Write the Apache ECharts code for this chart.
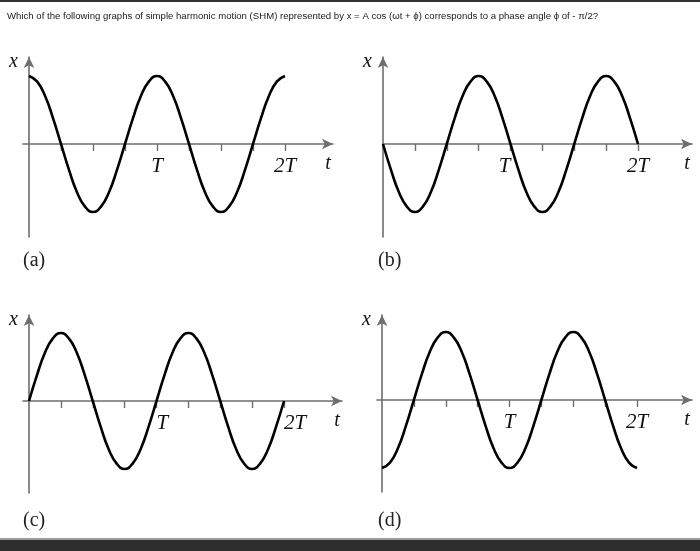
<!DOCTYPE html>
<html>
<head>
<meta charset="utf-8">
<script src="https://cdn.jsdelivr.net/npm/echarts@6/dist/echarts.min.js"></script>
<style>
html, body { margin: 0; padding: 0; background: #fff; }
#chart { width: 700px; height: 551px; }
</style>
</head>
<body>
<div id="chart"></div>
<script>
var question = "Which of the following graphs of simple harmonic motion (SHM) represented by x = A cos (\u03c9t + \u03d5) corresponds to a phase angle \u03d5 of - \u03c0/2?";

// time in units of the period T, sampled every T/16
var timeSteps = [0, 0.0625, 0.125, 0.1875, 0.25, 0.3125, 0.375, 0.4375, 0.5, 0.5625, 0.625, 0.6875, 0.75, 0.8125, 0.875, 0.9375,
	1, 1.0625, 1.125, 1.1875, 1.25, 1.3125, 1.375, 1.4375, 1.5, 1.5625, 1.625, 1.6875, 1.75, 1.8125, 1.875, 1.9375, 2];

// displacement, in units of the amplitude A
var curveA = [1, 0.92, 0.71, 0.38, 0, -0.38, -0.71, -0.92, -1, -0.92, -0.71, -0.38, 0, 0.38, 0.71, 0.92,
	1, 0.92, 0.71, 0.38, 0, -0.38, -0.71, -0.92, -1, -0.92, -0.71, -0.38, 0, 0.38, 0.71, 0.92, 1];
var curveB = [0, -0.38, -0.71, -0.92, -1, -0.92, -0.71, -0.38, 0, 0.38, 0.71, 0.92, 1, 0.92, 0.71, 0.38,
	0, -0.38, -0.71, -0.92, -1, -0.92, -0.71, -0.38, 0, 0.38, 0.71, 0.92, 1, 0.92, 0.71, 0.38, 0];
var curveC = [0, 0.38, 0.71, 0.92, 1, 0.92, 0.71, 0.38, 0, -0.38, -0.71, -0.92, -1, -0.92, -0.71, -0.38,
	0, 0.38, 0.71, 0.92, 1, 0.92, 0.71, 0.38, 0, -0.38, -0.71, -0.92, -1, -0.92, -0.71, -0.38, 0];
var curveD = [-1, -0.92, -0.71, -0.38, 0, 0.38, 0.71, 0.92, 1, 0.92, 0.71, 0.38, 0, -0.38, -0.71, -0.92,
	-1, -0.92, -0.71, -0.38, 0, 0.38, 0.71, 0.92, 1, 0.92, 0.71, 0.38, 0, -0.38, -0.71, -0.92, -1];

var tickValues = [0.25, 0.5, 0.75, 1, 1.25, 1.5, 1.75, 2];
var tickLabelValues = [1, 2];
var tickLabels = ["T", "2T"];
var panelLabels = ["(a)", "(b)", "(c)", "(d)"];
var curves = [curveA, curveB, curveC, curveD];

// pixel layout of each panel: origin, px per T, px per A, axis ends
var layout = [
	{ ox: 29, oy: 144, unit: 128, amp: 68, xs: 23, xe: 333, ye: 57, yb: 237, lx: 23, ly: 251, align: "center", nudgeT: false },
	{ ox: 383, oy: 144, unit: 127.5, amp: 68, xs: 383, xe: 692, ye: 57, yb: 237, lx: 378, ly: 251, align: "center", nudgeT: true },
	{ ox: 29, oy: 401, unit: 127.5, amp: 68, xs: 23, xe: 342, ye: 315, yb: 493, lx: 23, ly: 511, align: "left", nudgeT: false },
	{ ox: 382, oy: 400, unit: 127.5, amp: 68, xs: 377, xe: 692, ye: 315, yb: 492, lx: 378, ly: 511, align: "center", nudgeT: false }
];
var axisColor = "#6e6e6e";
var serif = "Liberation Serif";
var labelFont = { fontFamily: serif, fontStyle: "italic", fontSize: 21, color: "#111" };

var grids = [], xAxes = [], yAxes = [], series = [], titles = [];

titles.push({
	text: question,
	left: 7,
	top: 11,
	padding: 0,
	textStyle: { fontFamily: "Liberation Sans", fontSize: 9.6, fontWeight: "normal", color: "#1a1a1a" }
});

layout.forEach(function (p, i) {
	grids.push({
		left: p.xs,
		top: p.ye,
		width: p.xe - p.xs,
		height: p.yb - p.ye,
		outerBoundsMode: "none",
		containLabel: false
	});
	xAxes.push({
		type: "value",
		gridIndex: i,
		position: "bottom",
		offset: -(p.yb - p.oy),
		min: (p.xs - p.ox) / p.unit,
		max: (p.xe - p.ox) / p.unit,
		name: "t",
		nameLocation: "end",
		nameGap: -5,
		nameTextStyle: Object.assign({}, labelFont, {
			fontSize: 20, align: "center", verticalAlign: "top", padding: [10, 0, 0, 0]
		}),
		axisLine: {
			onZero: false,
			symbol: ["none", "arrow"],
			symbolSize: [8, 11],
			lineStyle: { color: axisColor, width: 1.6 }
		},
		axisTick: {
			show: true,
			customValues: tickValues,
			length: 7,
			lineStyle: { color: axisColor, width: 1.4 }
		},
		axisLabel: Object.assign({}, labelFont, {
			show: true,
			customValues: tickLabelValues,
			margin: 12,
			align: p.align,
			formatter: function (v) {
				var k = tickLabelValues.indexOf(v);
				if (k < 0) return "";
				return (p.nudgeT && k === 0) ? "{s|" + tickLabels[k] + "}" : tickLabels[k];
			},
			rich: { s: Object.assign({}, labelFont, { padding: [0, 12, 0, 0] }) }
		}),
		splitLine: { show: false }
	});
	yAxes.push({
		type: "value",
		gridIndex: i,
		position: "left",
		offset: -(p.ox - p.xs),
		min: (p.oy - p.yb) / p.amp,
		max: (p.oy - p.ye) / p.amp,
		name: "x",
		nameLocation: "end",
		nameGap: -5,
		nameTextStyle: Object.assign({}, labelFont, {
			fontSize: 20, align: "right", verticalAlign: "middle", padding: [0, 11, 6, 0]
		}),
		axisLine: {
			onZero: false,
			symbol: ["none", "arrow"],
			symbolSize: [8, 11],
			lineStyle: { color: axisColor, width: 1.6 }
		},
		axisTick: { show: false },
		axisLabel: { show: false },
		splitLine: { show: false }
	});
	series.push({
		type: "line",
		xAxisIndex: i,
		yAxisIndex: i,
		data: timeSteps.map(function (t, k) {
			return [t, curves[i][k]];
		}),
		smooth: true,
		showSymbol: false,
		silent: true,
		lineStyle: { color: "#000", width: 2.6 }
	});
	titles.push({
		text: panelLabels[i],
		left: p.lx,
		top: p.ly,
		padding: 0,
		textStyle: { fontFamily: serif, fontSize: 20, fontWeight: "normal", color: "#222" }
	});
});

var chart = echarts.init(document.getElementById("chart"), null, { renderer: "canvas" });
chart.setOption({
	backgroundColor: "#fff",
	animation: false,
	title: titles,
	grid: grids,
	xAxis: xAxes,
	yAxis: yAxes,
	series: series,
	graphic: [
		{ type: "rect", shape: { x: 0, y: 0, width: 700, height: 2 }, style: { fill: "#333" }, silent: true },
		{ type: "rect", shape: { x: 0, y: 538, width: 700, height: 2 }, style: { fill: "#9a9a9a" }, silent: true },
		{ type: "rect", shape: { x: 0, y: 540, width: 700, height: 11 }, style: { fill: "#2e2e2e" }, silent: true }
	]
});
</script>
</body>
</html>
